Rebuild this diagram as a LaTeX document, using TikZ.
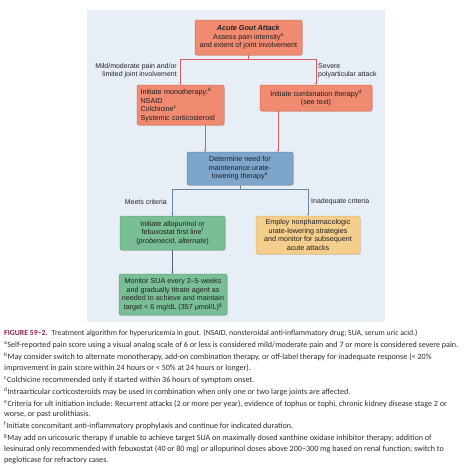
\documentclass[tikz,border=0pt]{standalone}
\usepackage{fontspec}
\setmainfont{Liberation Sans}
\newfontfamily\notefont{Carlito}
\usetikzlibrary{arrows.meta,shadows}
\definecolor{panelbg}{RGB}{231,238,245}
\definecolor{salmonfill}{RGB}{240,138,112}
\definecolor{salmondraw}{RGB}{222,108,88}
\definecolor{salmonline}{RGB}{214,92,100}
\definecolor{bluefill}{RGB}{126,166,203}
\definecolor{bluedraw}{RGB}{100,140,180}
\definecolor{blueline}{RGB}{105,135,165}
\definecolor{greenfill}{RGB}{122,190,150}
\definecolor{greendraw}{RGB}{95,165,125}
\definecolor{greenline}{RGB}{80,100,120}
\definecolor{yellowfill}{RGB}{244,206,140}
\definecolor{yellowdraw}{RGB}{225,180,110}
\definecolor{figred}{RGB}{140,35,85}
\definecolor{notetext}{RGB}{45,45,45}
\tikzset{
  boxbase/.style={rounded corners=2pt, line width=0.5pt, inner sep=2pt, font=\fontsize{7.2}{8.5}\selectfont, text=black!88, drop shadow={opacity=0.22, shadow xshift=0.8pt, shadow yshift=-0.9pt}},
  salmonbox/.style={boxbase, fill=salmonfill, draw=salmondraw},
  bluebox/.style={boxbase, fill=bluefill, draw=bluedraw},
  greenbox/.style={boxbase, fill=greenfill, draw=greendraw},
  yellowbox/.style={boxbase, fill=yellowfill, draw=yellowdraw},
  lbl/.style={font=\fontsize{7}{8.4}\selectfont, text=black!85, inner sep=0pt},
  conn/.style={line width=0.6pt, -{Stealth[length=2.2pt,width=2.2pt]}},
  note/.style={anchor=base west, inner sep=0pt, font=\notefont\fontsize{8.1}{9}\selectfont, text=notetext},
}
\newcommand{\sps}[1]{\textsuperscript{#1}}
\begin{document}
\begin{tikzpicture}[x=1pt,y=-1pt]
\path[use as bounding box, fill=white] (0,0) rectangle (474,467);
\fill[panelbg] (87,10) rectangle (385,322);

% nodes
\node[salmonbox, minimum width=107pt, minimum height=35pt, align=center] (top) at (248.5,37.5)
  {\textbf{\textit{Acute Gout Attack}}\\Assess pain intensity\sps{a}\\and extent of joint involvement};
\node[salmonbox, minimum width=87pt, minimum height=40pt, align=left, text width=80pt] (mono) at (180.5,105)
  {Initiate monotherapy:\sps{b}\\NSAID\\Colchicine\sps{c}\\Systemic corticosteroid};
\node[salmonbox, minimum width=112pt, minimum height=26pt, align=center] (combo) at (316,98)
  {Initiate combination therapy\sps{d}\\(see text)};
\node[bluebox, minimum width=106pt, minimum height=33pt, align=center] (blue) at (240,168.5)
  {Determine need for\\maintenance urate-\\lowering therapy\sps{e}};
\node[greenbox, minimum width=105pt, minimum height=34pt, align=center] (allo) at (172.5,233)
  {Initiate allopurinol or\\febuxostat first line\sps{f}\\(\textit{probenecid}, \textit{alternate})};
\node[yellowbox, minimum width=104pt, minimum height=38pt, align=center] (nonph) at (308,235)
  {Employ nonpharmacologic\\urate-lowering strategies\\and monitor for subsequent\\acute attacks};
\node[greenbox, minimum width=108pt, minimum height=41pt, align=center] (sua) at (173,294.5)
  {Monitor SUA every 2–5 weeks\\and gradually titrate agent as\\needed to achieve and maintain\\target < 6 mg/dL (357 μmol/L)\sps{g}};

% labels
\node[lbl, anchor=east, align=right] (lmild) at (177,70.5) {Mild/moderate pain and/or\\limited joint involvement};
\node[lbl, anchor=west, align=left] (lsev) at (318,70.5) {Severe\\polyarticular attack};
\node[lbl, anchor=east] (lmeet) at (167,202) {Meets criteria};
\node[lbl, anchor=west] (linad) at (311,202) {Inadequate criteria};

% connectors top
\coordinate (split1) at (248.5,59);
\draw[salmonline, line width=0.6pt] (top.south) -- (split1);
\draw[salmonline, line width=0.6pt] (split1 -| mono.north) -- (split1 -| combo.north);
\draw[salmonline, conn] (split1 -| mono.north) -- (mono.north);
\draw[salmonline, conn] (split1 -| combo.north) -- (combo.north);
\coordinate (mout) at (205,125);
\coordinate (cout) at (278,111);
\draw[salmonline, conn] (mout) -- (mout |- blue.north);
\draw[salmonline, conn] (cout) -- (cout |- blue.north);

% connectors middle
\coordinate (split2) at (240,189);
\draw[blueline, line width=0.6pt] (blue.south) -- (split2);
\draw[blueline, line width=0.6pt] (split2 -| allo.north) -- (split2 -| nonph.north);
\draw[blueline, conn] (split2 -| allo.north) -- (allo.north);
\draw[blueline, conn] (split2 -| nonph.north) -- (nonph.north);

% connector bottom
\draw[greenline, conn] (allo.south) -- (allo.south |- sua.north);

% caption and notes
\node[note, font=\notefont\fontsize{7.8}{9}\selectfont] (cap) at (4,335.5) {\textbf{\color{figred}FIGURE 59–2.}\hspace{4pt}Treatment algorithm for hyperuricemia in gout. (NSAID, nonsteroidal anti-inflammatory drug; SUA, serum uric acid.)};
\node[note] (na) at (4,347.5) {\sps{a}Self-reported pain score using a visual analog scale of 6 or less is considered mild/moderate pain and 7 or more is considered severe pain.};
\node[note] (nb1) at (4,359.5) {\sps{b}May consider switch to alternate monotherapy, add-on combination therapy, or off-label therapy for inadequate response (< 20\%};
\node[note] (nb2) at (4,370) {improvement in pain score within 24 hours or < 50\% at 24 hours or longer).};
\node[note] (nc) at (4,382) {\sps{c}Colchicine recommended only if started within 36 hours of symptom onset.};
\node[note] (nd) at (4,394) {\sps{d}Intraarticular corticosteroids may be used in combination when only one or two large joints are affected.};
\node[note] (ne1) at (4,406) {\sps{e}Criteria for ult initiation include: Recurrent attacks (2 or more per year), evidence of tophus or tophi, chronic kidney disease stage 2 or};
\node[note] (ne2) at (4,416.5) {worse, or past urolithiasis.};
\node[note] (nf) at (4,428.5) {\sps{f}Initiate concomitant anti-inflammatory prophylaxis and continue for indicated duration.};
\node[note] (ng1) at (4,440.5) {\sps{g}May add on uricosuric therapy if unable to achieve target SUA on maximally dosed xanthine oxidase inhibitor therapy; addition of};
\node[note] (ng2) at (4,451.5) {lesinurad only recommended with febuxostat (40 or 80 mg) or allopurinol doses above 200–300 mg based on renal function; switch to};
\node[note] (ng3) at (4,462.5) {pegloticase for refractory cases.};
\end{tikzpicture}
\end{document}
